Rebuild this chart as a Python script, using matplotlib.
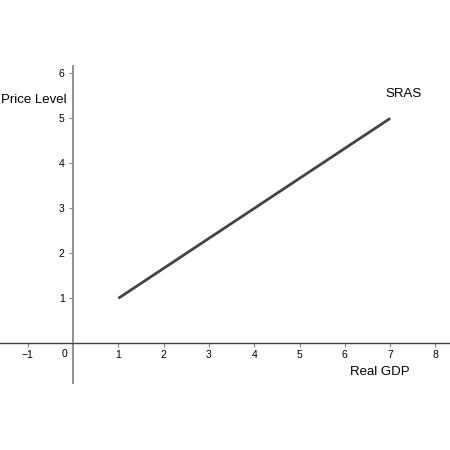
import numpy as np
import matplotlib.pyplot as plt

plt.rcParams['font.family'] = ['Liberation Sans', 'DejaVu Sans']

# SRAS curve end points
gdp = [1, 7]
price = [1, 5]

x_ticks = [-1, 1, 2, 3, 4, 5, 6, 7, 8]
y_ticks = [1, 2, 3, 4, 5, 6]

fig = plt.figure(figsize=(4.5, 4.5), dpi=100)
ax = fig.add_axes([0, 0, 1, 1])
ax.set_xlim(-1.611, 8.32)
ax.set_ylim(-2.37, 7.63)

ax.plot(gdp, price, color='#444444', linewidth=2.0, solid_capstyle='butt')

for s in ['top', 'right']:
    ax.spines[s].set_visible(False)
ax.spines['left'].set_position(('data', 0))
ax.spines['bottom'].set_position(('data', 0))
ax.spines['left'].set_bounds(-0.87, 6.16)
ax.spines['bottom'].set_bounds(-1.611, 8.32)
ax.spines['left'].set_color('#888888')
ax.spines['bottom'].set_color('#444444')
ax.spines['left'].set_linewidth(1.3)
ax.spines['bottom'].set_linewidth(1.0)

ax.set_xticks(x_ticks)
ax.set_yticks(y_ticks)
ax.set_xticklabels([str(v).replace('-', '\u2212') for v in x_ticks])
ax.tick_params(axis='x', direction='out', length=3, width=0.8, color='#888888',
               labelsize=7.5, pad=2)
ax.tick_params(axis='y', direction='out', length=3, width=0.8, color='#888888',
               labelsize=7.5, pad=3)
ax.text(-0.12, -0.12, '0', fontsize=7.5, ha='right', va='top')

ax.text(7.3, 5.55, 'SRAS', fontsize=9.5, ha='center', va='center')
ax.text(-1.59, 5.4, 'Price Level', fontsize=9.5, ha='left', va='center')
ax.text(6.78, -0.64, 'Real GDP', fontsize=9.5, ha='center', va='center')

fig.savefig('out.png', dpi=100)
